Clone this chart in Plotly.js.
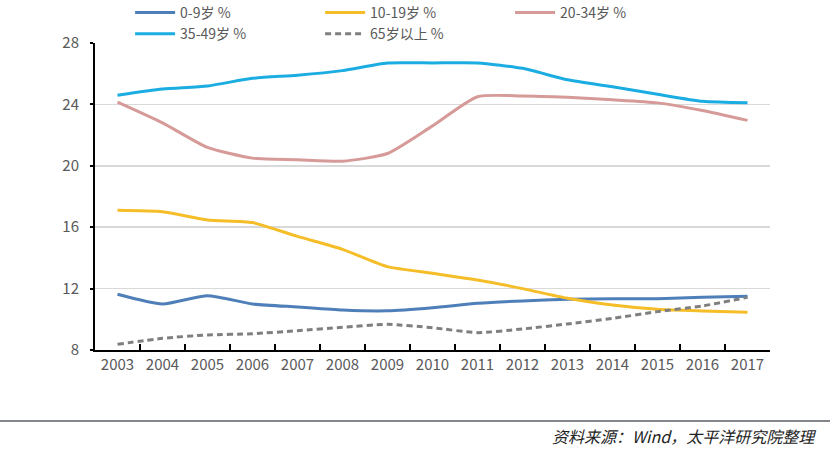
<!DOCTYPE html>
<html>
<head>
<meta charset="utf-8">
<script src="https://cdn.plot.ly/plotly-3.0.1.min.js"></script>
<style>
  html, body { margin: 0; padding: 0; background: #fff; }
  #chart { width: 837px; height: 449px; }
</style>
</head>
<body>
<div id="chart"></div>
<script>
// Population share by age group, 2003-2017 (%)
const years = ['2003','2004','2005','2006','2007','2008','2009','2010','2011','2012','2013','2014','2015','2016','2017'];

const age0to9   = [11.63, 11.0, 11.54, 11.0, 10.8, 10.6, 10.55, 10.75, 11.04, 11.2, 11.3, 11.34, 11.34, 11.43, 11.5];
const age10to19 = [17.1, 17.0, 16.47, 16.3, 15.4, 14.56, 13.43, 13.0, 12.56, 12.0, 11.37, 10.93, 10.65, 10.54, 10.46];
const age20to34 = [24.15, 22.8, 21.2, 20.5, 20.4, 20.3, 20.8, 22.6, 24.5, 24.55, 24.46, 24.3, 24.1, 23.6, 22.96];
const age35to49 = [24.6, 25.0, 25.2, 25.7, 25.9, 26.2, 26.7, 26.7, 26.7, 26.35, 25.6, 25.15, 24.66, 24.2, 24.1];
const age65up   = [8.37, 8.76, 8.98, 9.06, 9.26, 9.48, 9.67, 9.45, 9.13, 9.37, 9.7, 10.06, 10.5, 10.87, 11.43];

const seriesNames = ['0-9岁 %', '10-19岁 %', '20-34岁 %', '35-49岁 %', '65岁以上 %'];
const yTicks = [8, 12, 16, 20, 24, 28];
const sourceNote = '资料来源：Wind，太平洋研究院整理';

const font = '"Noto Sans CJK SC", "Noto Sans", sans-serif';
const grey = '#595959';

function series(name, y, color, dash) {
  return {
    type: 'scatter', mode: 'lines', name: name, x: years, y: y,
    line: { color: color, width: 3, shape: 'spline', smoothing: 0.6, dash: dash || 'solid' },
    hoverinfo: 'skip'
  };
}

const data = [
  series(seriesNames[0], age0to9, '#4F7FB8'),
  series(seriesNames[1], age10to19, '#F5BD27'),
  series(seriesNames[2], age20to34, '#D69A98'),
  series(seriesNames[3], age35to49, '#1BADE2'),
  series(seriesNames[4], age65up, '#7F7F7F', '6px,4px')
];

const plotW = 675, plotH = 307;

const layout = {
  width: 837, height: 449,
  margin: { l: 95, r: 67, t: 43, b: 99, autoexpand: false },
  paper_bgcolor: '#fff', plot_bgcolor: '#fff',
  font: { family: font, color: grey, size: 15 },
  showlegend: true,
  legend: {
    orientation: 'h', x: 0.052, xanchor: 'left', y: 1.0 + 46 / plotH, yanchor: 'top',
    xref: 'paper', yref: 'paper',
    entrywidth: 135, entrywidthmode: 'pixels',
    font: { family: font, size: 14, color: grey },
    tracegroupgap: 0, itemwidth: 40,
    bgcolor: 'rgba(0,0,0,0)'
  },
  xaxis: {
    type: 'category', range: [-0.5, 14.5],
    showgrid: false, zeroline: false,
    showline: true, linecolor: '#000', linewidth: 2,
    ticks: 'inside', tickson: 'boundaries', ticklen: 6, tickwidth: 2, tickcolor: '#000',
    tickfont: { family: font, size: 15, color: grey },
    fixedrange: true
  },
  yaxis: {
    range: [8, 28], tickvals: yTicks, ticktext: yTicks.map(String),
    showgrid: true, gridcolor: '#D9D9D9', gridwidth: 1.5,
    zeroline: false,
    showline: true, linecolor: '#000', linewidth: 2,
    ticks: 'outside', ticklen: 3, tickwidth: 2, tickcolor: '#000',
    tickfont: { family: font, size: 15, color: grey },
    ticklabelstandoff: 8,
    fixedrange: true
  },
  shapes: [{
    type: 'line', xref: 'paper', yref: 'paper',
    x0: -95 / plotW, x1: (830 - 95) / plotW,
    y0: -71 / plotH, y1: -71 / plotH,
    line: { color: '#5A5F66', width: 1.5 }
  }],
  annotations: [{
    text: '<i>' + sourceNote + '</i>',
    xref: 'paper', yref: 'paper',
    x: (818 - 95) / plotW, xanchor: 'right',
    y: -86 / plotH, yanchor: 'middle',
    showarrow: false,
    font: { family: '"Noto Sans CJK SC", sans-serif', size: 16, color: '#222' }
  }]
};

Plotly.newPlot('chart', data, layout, { displayModeBar: false, staticPlot: true });
</script>
</body>
</html>
